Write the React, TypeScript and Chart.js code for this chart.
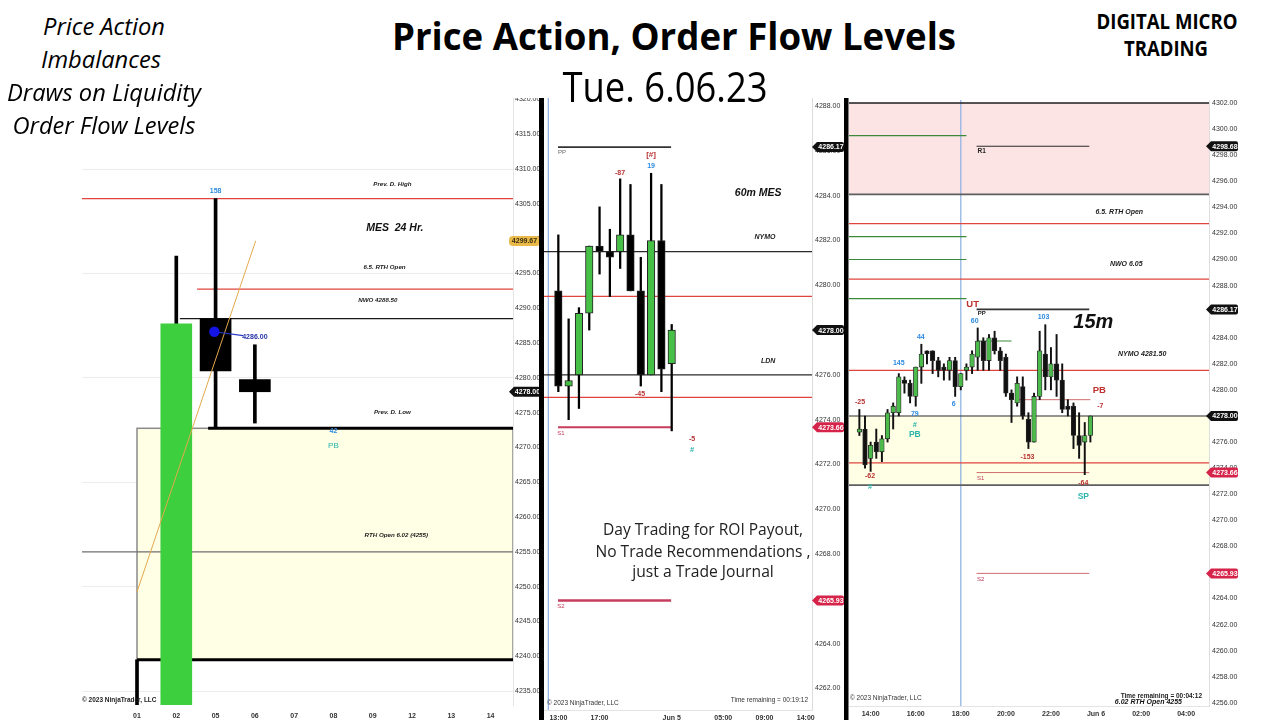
import React, { useEffect, useRef } from 'react';
import { Chart, registerables } from 'chart.js';

Chart.register(...registerables);

const NT_FONT = '"Liberation Sans", Arial, sans-serif';

type Level = { v: number; from?: number; to?: number; kind: string };
type Zone = { hi: number; lo: number; from?: number; to?: number; kind: string };
type Seg = { x0: number; v0: number; x1: number; v1: number; kind: string };
type VLine = { x: number; kind: string };
type Dot = { x: number; v: number; kind: string };
type Note = { x: number; v: number; text: string; kind: string };
type Badge = { v: number; text: string; kind: string };
type Footer = { text: string; kind: string; side: 'left' | 'right'; dx: number; dy: number };

/* ===================== LEFT PANEL : MES 24 Hr (daily) ===================== */
const LEFT_X_TICK_POS = [0, 1, 2, 3, 4, 5, 6, 7, 8, 9];
const LEFT_X_TICK_LABELS = ['01', '02', '05', '06', '07', '08', '09', '12', '13', '14'];
const LEFT_Y_TICKS = [4235, 4240, 4245, 4250, 4255, 4260, 4265, 4270, 4275, 4280, 4285, 4290, 4295, 4300, 4305, 4310, 4315, 4320];
const LEFT_BAR = [0, 1, 2, 3];
const LEFT_OPEN = [4231, 4226, 4288.5, 4279.75];
const LEFT_HIGH = [4239.5, 4297.5, 4305.75, 4284.75];
const LEFT_LOW = [4225, 4222, 4272.75, 4273.5];
const LEFT_CLOSE = [4230, 4287.75, 4281, 4278];
const LEFT_LEVELS: Level[] = [
  { v: 4305.75, kind: 'red' },
  { v: 4292.75, from: 1.53, kind: 'red' },
  { v: 4288.5, from: 1.09, kind: 'black' },
  { v: 4272.75, from: 1.81, kind: 'blackThick' },
  { v: 4255, kind: 'gray' },
  { v: 4239.5, from: 0, kind: 'blackThick' },
];
const LEFT_ZONES: Zone[] = [{ hi: 4272.75, lo: 4239.5, from: 0, kind: 'creamBox' }];
const LEFT_SEGS: Seg[] = [
  { x0: 0, v0: 4249.25, x1: 3.02, v1: 4299.67, kind: 'orange' },
  { x0: 1.97, v0: 4286.62, x1: 2.7, v1: 4286.05, kind: 'navy' },
];
const LEFT_DOTS: Dot[] = [{ x: 1.97, v: 4286.62, kind: 'blueDot' }];
const LEFT_NOTES: Note[] = [
  { x: 6.5, v: 4307.85, text: 'Prev. D. High', kind: 'tag' },
  { x: 6.56, v: 4301.5, text: 'MES  24 Hr.', kind: 'title' },
  { x: 6.3, v: 4295.9, text: '6.5. RTH Open', kind: 'tag' },
  { x: 6.13, v: 4291.2, text: 'NWO 4288.50', kind: 'tag' },
  { x: 6.5, v: 4275.1, text: 'Prev. D. Low', kind: 'tag' },
  { x: 6.6, v: 4257.4, text: 'RTH Open 6.02 (4255)', kind: 'tag' },
  { x: 2, v: 4306.85, text: '158', kind: 'blue' },
  { x: 5, v: 4272.35, text: '42', kind: 'blue' },
  { x: 5, v: 4270.2, text: 'PB', kind: 'tealMid' },
  { x: 3.0, v: 4285.85, text: '4286.00', kind: 'navy' },
];
const LEFT_BADGES: Badge[] = [
  { v: 4299.67, text: '4299.67', kind: 'gold' },
  { v: 4278, text: '4278.00', kind: 'black' },
];

/* ===================== MIDDLE PANEL : 60m MES ===================== */
const MID_X_TICK_POS = [0, 4, 11, 16, 20, 24];
const MID_X_TICK_LABELS = ['13:00', '17:00', 'Jun 5', '05:00', '09:00', '14:00'];
const MID_Y_TICKS = [4262, 4264, 4266, 4268, 4270, 4272, 4274, 4276, 4278, 4280, 4282, 4284, 4286, 4288];
const MID_BAR = [0, 1, 2, 3, 4, 5, 6, 7, 8, 9, 10, 11];
const MID_OPEN = [4279.75, 4275.5, 4276.0, 4278.75, 4281.75, 4281.5, 4281.5, 4282.25, 4279.75, 4276.0, 4282.0, 4276.5];
const MID_HIGH = [4282.25, 4278.5, 4279.0, 4281.75, 4283.5, 4282.5, 4284.75, 4284.5, 4281.25, 4285.0, 4284.5, 4278.25];
const MID_LOW = [4275.25, 4274.0, 4274.5, 4278.0, 4280.5, 4279.5, 4280.75, 4279.75, 4275.5, 4276.0, 4275.25, 4273.5];
const MID_CLOSE = [4275.5, 4275.75, 4278.75, 4281.75, 4281.5, 4281.25, 4282.25, 4279.75, 4276.0, 4282.0, 4276.25, 4278.0];
const MID_LEVELS: Level[] = [
  { v: 4286.17, from: -0.03, to: 10.94, kind: 'pp' },
  { v: 4281.5, kind: 'dark' },
  { v: 4279.5, kind: 'red' },
  { v: 4276.0, kind: 'dark' },
  { v: 4275.0, kind: 'red' },
  { v: 4273.66, from: -0.03, to: 10.94, kind: 'crimson' },
  { v: 4265.93, from: -0.03, to: 10.94, kind: 'crimsonThick' },
];
const MID_VLINES: VLine[] = [{ x: -0.97, kind: 'blue' }];
const MID_NOTES: Note[] = [
  { x: 0.35, v: 4285.95, text: 'PP', kind: 'small' },
  { x: 20.05, v: 4282.15, text: 'NYMO', kind: 'tag7' },
  { x: 20.36, v: 4276.62, text: 'LDN', kind: 'tag7' },
  { x: 19.39, v: 4284.12, text: '60m MES', kind: 'title' },
  { x: 5.99, v: 4285.01, text: '-87', kind: 'red' },
  { x: 9.0, v: 4285.81, text: '[#]', kind: 'redMid' },
  { x: 9.0, v: 4285.32, text: '19', kind: 'blue' },
  { x: 7.93, v: 4275.14, text: '-45', kind: 'red' },
  { x: 12.98, v: 4273.13, text: '-5', kind: 'red' },
  { x: 12.98, v: 4272.64, text: '#', kind: 'teal' },
  { x: 0.26, v: 4273.4, text: 'S1', kind: 'crimson' },
  { x: 0.26, v: 4265.68, text: 'S2', kind: 'crimson' },
];
const MID_BADGES: Badge[] = [
  { v: 4286.17, text: '4286.17', kind: 'black' },
  { v: 4278.0, text: '4278.00', kind: 'black' },
  { v: 4273.66, text: '4273.66', kind: 'red' },
  { v: 4265.93, text: '4265.93', kind: 'red' },
];

/* ===================== RIGHT PANEL : 15m MES ===================== */
const RIGHT_X_TICK_POS = [0, 8, 16, 24, 32, 40, 48, 56];
const RIGHT_X_TICK_LABELS = ['14:00', '16:00', '18:00', '20:00', '22:00', 'Jun 6', '02:00', '04:00'];
const RIGHT_Y_TICKS = [4256, 4258, 4260, 4262, 4264, 4266, 4268, 4270, 4272, 4274, 4276, 4278, 4280, 4282, 4284, 4286, 4288, 4290, 4292, 4294, 4296, 4298, 4300, 4302];
const RIGHT_BAR = [-2, -1, 0, 1, 2, 3, 4, 5, 6, 7, 8, 9, 10, 11, 12, 13, 14, 15, 16, 17, 18, 19, 20, 21, 22, 23, 24, 25, 26, 27, 28, 29, 30, 31, 32, 33, 34, 35, 36, 37, 38, 39];
const RIGHT_OPEN = [4276.75, 4277.0, 4274.75, 4276.0, 4275.25, 4276.25, 4278.25, 4278.25, 4280.75, 4280.5, 4279.5, 4281.75, 4283.0, 4283.0, 4282.25, 4281.75, 4281.5, 4282.25, 4280.25, 4281.5, 4281.75, 4282.5, 4283.75, 4282.25, 4284.0, 4283.0, 4282.5, 4279.75, 4279.0, 4280.25, 4277.75, 4276.0, 4279.5, 4282.75, 4281.0, 4282.0, 4280.75, 4278.75, 4278.75, 4276.5, 4276.0, 4276.5];
const RIGHT_HIGH = [4278.5, 4278.0, 4276.0, 4277.0, 4276.5, 4278.5, 4279.0, 4281.25, 4281.0, 4280.75, 4281.75, 4283.5, 4283.0, 4283.0, 4282.5, 4282.0, 4282.5, 4282.5, 4281.25, 4282.0, 4283.0, 4284.75, 4284.0, 4284.25, 4284.5, 4283.25, 4282.75, 4280.0, 4281.0, 4281.0, 4278.25, 4279.75, 4284.5, 4285.0, 4283.25, 4284.25, 4282.0, 4279.25, 4279.0, 4278.25, 4277.5, 4278.0];
const RIGHT_LOW = [4276.5, 4274.0, 4273.75, 4274.75, 4274.5, 4276.0, 4277.0, 4278.0, 4279.75, 4279.0, 4278.75, 4280.5, 4282.0, 4281.25, 4281.0, 4280.75, 4280.75, 4279.5, 4280.0, 4280.75, 4281.25, 4281.5, 4281.5, 4281.5, 4282.75, 4281.5, 4279.5, 4277.5, 4278.75, 4277.75, 4275.5, 4276.0, 4279.25, 4280.0, 4280.0, 4279.5, 4278.25, 4278.0, 4275.5, 4274.75, 4273.5, 4276.0];
const RIGHT_CLOSE = [4277.0, 4274.25, 4275.75, 4275.25, 4276.25, 4278.25, 4278.75, 4281.0, 4280.5, 4279.5, 4281.75, 4282.75, 4282.75, 4282.25, 4281.5, 4281.5, 4282.25, 4280.25, 4281.25, 4281.75, 4282.75, 4283.75, 4282.25, 4284.0, 4283.0, 4282.25, 4279.75, 4279.25, 4280.5, 4278.0, 4276.0, 4279.5, 4283.0, 4281.0, 4282.0, 4280.75, 4278.5, 4278.5, 4276.5, 4275.75, 4276.5, 4278.0];
const RIGHT_LEVELS: Level[] = [
  { v: 4302, kind: 'dark15' },
  { v: 4299.5, to: 17, kind: 'green' },
  { v: 4298.68, from: 18.8, to: 38.8, kind: 'dark' },
  { v: 4295, kind: 'grayThick' },
  { v: 4292.75, kind: 'red' },
  { v: 4291.75, to: 17, kind: 'green' },
  { v: 4290, to: 17, kind: 'green' },
  { v: 4288.5, kind: 'red' },
  { v: 4287, to: 17, kind: 'green' },
  { v: 4286.17, from: 18.8, to: 38.8, kind: 'pp' },
  { v: 4283.75, from: 19, to: 25, kind: 'green' },
  { v: 4281.5, kind: 'red' },
  { v: 4279.25, from: 26, to: 39, kind: 'thinRed' },
  { v: 4278, kind: 'dark' },
  { v: 4274.4, kind: 'red' },
  { v: 4273.66, from: 18.8, to: 38.8, kind: 'thinRed' },
  { v: 4272.7, kind: 'grayThick' },
  { v: 4265.93, from: 18.8, to: 38.8, kind: 'thinRed' },
];
const RIGHT_ZONES: Zone[] = [
  { hi: 4302, lo: 4295, kind: 'pink' },
  { hi: 4278, lo: 4272.7, kind: 'cream' },
];
const RIGHT_VLINES: VLine[] = [{ x: 16, kind: 'blue' }];
const RIGHT_NOTES: Note[] = [
  { x: 19.7, v: 4298.32, text: 'R1', kind: 'smallBold' },
  { x: 44.12, v: 4293.64, text: '6.5. RTH Open', kind: 'tag7' },
  { x: 45.36, v: 4289.65, text: 'NWO 6.05', kind: 'tag7' },
  { x: 48.19, v: 4282.75, text: 'NYMO 4281.50', kind: 'tag7' },
  { x: 39.52, v: 4285.2, text: '15m', kind: 'titleBig' },
  { x: 18.1, v: 4286.59, text: 'UT', kind: 'redBig' },
  { x: 19.7, v: 4285.9, text: 'PP', kind: 'smallDark' },
  { x: 40.58, v: 4279.99, text: 'PB', kind: 'redBig' },
  { x: 40.76, v: 4278.76, text: '-7', kind: 'red' },
  { x: 18.46, v: 4285.28, text: '60', kind: 'blue' },
  { x: 30.68, v: 4285.59, text: '103', kind: 'blue' },
  { x: 8.9, v: 4284.06, text: '44', kind: 'blue' },
  { x: 5.0, v: 4282.06, text: '145', kind: 'blue' },
  { x: -1.89, v: 4279.07, text: '-25', kind: 'red' },
  { x: 14.74, v: 4278.92, text: '6', kind: 'blue' },
  { x: 7.84, v: 4278.15, text: '79', kind: 'blue' },
  { x: 7.84, v: 4277.31, text: '#', kind: 'teal' },
  { x: 7.84, v: 4276.54, text: 'PB', kind: 'tealBig' },
  { x: -0.12, v: 4273.4, text: '-62', kind: 'red' },
  { x: -0.12, v: 4272.55, text: '#', kind: 'teal' },
  { x: 27.84, v: 4274.85, text: '-153', kind: 'red' },
  { x: 37.75, v: 4272.86, text: '-64', kind: 'red' },
  { x: 37.75, v: 4271.79, text: 'SP', kind: 'tealBig' },
  { x: 19.52, v: 4273.24, text: 'S1', kind: 'crimson' },
  { x: 19.52, v: 4265.5, text: 'S2', kind: 'crimson' },
];
const RIGHT_BADGES: Badge[] = [
  { v: 4298.68, text: '4298.68', kind: 'black' },
  { v: 4286.17, text: '4286.17', kind: 'black' },
  { v: 4278.0, text: '4278.00', kind: 'black' },
  { v: 4273.66, text: '4273.66', kind: 'red' },
  { v: 4265.93, text: '4265.93', kind: 'red' },
];

/* ===================== STYLES ===================== */
const LINE_STYLES: Record<string, { color: string; width: number }> = {
  red: { color: '#e0443c', width: 1.2 },
  dark: { color: '#2a2a2a', width: 1.1 },
  dark15: { color: '#1e1e1e', width: 1.6 },
  black: { color: '#1a1a1a', width: 1.1 },
  blackThick: { color: '#000', width: 3 },
  gray: { color: '#6f6f6f', width: 1.2 },
  grayThick: { color: '#5e5e5e', width: 1.8 },
  pp: { color: '#333', width: 1.8 },
  crimson: { color: '#c83c5e', width: 2 },
  crimsonThick: { color: '#c83c5e', width: 2.6 },
  thinRed: { color: '#cf6d6d', width: 1 },
  green: { color: '#3b8a3b', width: 1.2 },
  blue: { color: '#92b4e4', width: 1.3 },
  orange: { color: '#e3a94c', width: 1 },
  navy: { color: '#2336c8', width: 1.2 },
};
const ZONE_STYLES: Record<string, { fill: string; stroke?: string; width?: number }> = {
  creamBox: { fill: '#ffffe6', stroke: '#8a8a8a', width: 1.5 },
  cream: { fill: '#ffffe6' },
  pink: { fill: '#fde4e4' },
};
const DOT_STYLES: Record<string, { color: string; r: number }> = {
  blueDot: { color: '#1414e6', r: 5.2 },
};
const NOTE_STYLES: Record<string, { font: string; color: string }> = {
  tag: { font: `italic bold 6.2px ${NT_FONT}`, color: '#1a1a1a' },
  tag7: { font: `italic bold 7px ${NT_FONT}`, color: '#1a1a1a' },
  title: { font: `italic bold 10.5px ${NT_FONT}`, color: '#111' },
  titleBig: { font: `italic bold 20px ${NT_FONT}`, color: '#111' },
  blue: { font: `bold 7px ${NT_FONT}`, color: '#2d8ae0' },
  red: { font: `bold 7px ${NT_FONT}`, color: '#b83232' },
  redMid: { font: `bold 8px ${NT_FONT}`, color: '#b83232' },
  redBig: { font: `bold 9.5px ${NT_FONT}`, color: '#c0302c' },
  teal: { font: `bold 7.5px ${NT_FONT}`, color: '#26b3a8' },
  tealMid: { font: `8px ${NT_FONT}`, color: '#26b3a8' },
  tealBig: { font: `bold 8.5px ${NT_FONT}`, color: '#2bb5aa' },
  navy: { font: `bold 7px ${NT_FONT}`, color: '#2433a8' },
  small: { font: `6px ${NT_FONT}`, color: '#666' },
  smallDark: { font: `bold 6px ${NT_FONT}`, color: '#222' },
  smallBold: { font: `bold 6.5px ${NT_FONT}`, color: '#222' },
  crimson: { font: `6px ${NT_FONT}`, color: '#c23a5a' },
  foot: { font: `6.5px ${NT_FONT}`, color: '#333' },
  footBold: { font: `bold 6.5px ${NT_FONT}`, color: '#222' },
  footBI: { font: `italic bold 7px ${NT_FONT}`, color: '#111' },
};
const BADGE_STYLES: Record<string, { fill: string; color: string; shape: 'arrow' | 'pill' }> = {
  black: { fill: '#111', color: '#fff', shape: 'arrow' },
  red: { fill: '#d6234a', color: '#fff', shape: 'arrow' },
  gold: { fill: '#e9b949', color: '#3a2e10', shape: 'pill' },
};

type Panel = {
  xMin: number; xMax: number; yMin: number; yMax: number;
  xTickPos: number[]; xTickLabels: string[]; yTicks: number[];
  bar: number[]; open: number[]; high: number[]; low: number[]; close: number[];
  levels: Level[]; zones: Zone[]; segs: Seg[]; vlines: VLine[]; dots: Dot[]; notes: Note[]; badges: Badge[]; footers: Footer[];
  look: {
    padLeft: number; padTop: number; yAxisW: number; xAxisH: number; xTickPad: number; yTickPad: number;
    bodyW: number; wickW: number; up: string; down: string; bodyBorder: string | null; bodyBorderW: number; wick: string;
    leftBar: number; gridEvery: number; gridBase: number; yBorder: string; xBorder: string | null;
    badgeDx: number; badgeW: number;
  };
};

function makeOverlay(p: Panel) {
  const xp = (chart: any, v: number | undefined, fb: number) => (v === undefined ? fb : chart.scales.x.getPixelForValue(v));
  const yp = (chart: any, v: number) => chart.scales.y.getPixelForValue(v);
  return {
    id: 'overlay',
    beforeDatasetsDraw(chart: any) {
      const { ctx, chartArea: a } = chart;
      ctx.save();
      ctx.beginPath();
      ctx.rect(a.left, a.top, a.right - a.left, a.bottom - a.top);
      ctx.clip();
      for (const z of p.zones) {
        const st = ZONE_STYLES[z.kind];
        const x0 = xp(chart, z.from, a.left);
        const x1 = xp(chart, z.to, a.right);
        const y0 = yp(chart, z.hi);
        const y1 = yp(chart, z.lo);
        ctx.fillStyle = st.fill;
        ctx.fillRect(x0, y0, x1 - x0, y1 - y0);
        if (st.stroke) {
          ctx.strokeStyle = st.stroke;
          ctx.lineWidth = st.width || 1;
          ctx.strokeRect(x0, y0, x1 - x0, y1 - y0);
        }
      }
      for (const vl of p.vlines) {
        const st = LINE_STYLES[vl.kind];
        const x = chart.scales.x.getPixelForValue(vl.x);
        ctx.strokeStyle = st.color;
        ctx.lineWidth = st.width;
        ctx.beginPath();
        ctx.moveTo(x, a.top);
        ctx.lineTo(x, a.bottom);
        ctx.stroke();
      }
      for (const l of p.levels) {
        const st = LINE_STYLES[l.kind];
        const y = yp(chart, l.v);
        ctx.strokeStyle = st.color;
        ctx.lineWidth = st.width;
        ctx.beginPath();
        ctx.moveTo(xp(chart, l.from, a.left), y);
        ctx.lineTo(xp(chart, l.to, a.right), y);
        ctx.stroke();
      }
      ctx.restore();
    },
    afterDatasetsDraw(chart: any) {
      const { ctx, chartArea: a } = chart;
      ctx.save();
      ctx.beginPath();
      ctx.rect(a.left, a.top, a.right - a.left, a.bottom - a.top);
      ctx.clip();
      for (const s of p.segs) {
        const st = LINE_STYLES[s.kind];
        ctx.strokeStyle = st.color;
        ctx.lineWidth = st.width;
        ctx.beginPath();
        ctx.moveTo(chart.scales.x.getPixelForValue(s.x0), yp(chart, s.v0));
        ctx.lineTo(chart.scales.x.getPixelForValue(s.x1), yp(chart, s.v1));
        ctx.stroke();
      }
      for (const d of p.dots) {
        const st = DOT_STYLES[d.kind];
        ctx.fillStyle = st.color;
        ctx.beginPath();
        ctx.arc(chart.scales.x.getPixelForValue(d.x), yp(chart, d.v), st.r, 0, Math.PI * 2);
        ctx.fill();
      }
      ctx.textAlign = 'center';
      ctx.textBaseline = 'middle';
      for (const n of p.notes) {
        const st = NOTE_STYLES[n.kind];
        ctx.font = st.font;
        ctx.fillStyle = st.color;
        ctx.fillText(n.text, chart.scales.x.getPixelForValue(n.x), yp(chart, n.v));
      }
      ctx.textBaseline = 'middle';
      for (const f of p.footers) {
        const st = NOTE_STYLES[f.kind];
        ctx.font = st.font;
        ctx.fillStyle = st.color;
        ctx.textAlign = f.side === 'left' ? 'left' : 'right';
        const x = f.side === 'left' ? a.left + f.dx : a.right - f.dx;
        ctx.fillText(f.text, x, a.bottom - f.dy);
      }
      ctx.restore();
    },
    afterDraw(chart: any) {
      const { ctx, chartArea: a } = chart;
      const ys = chart.scales.y;
      ctx.save();
      for (const b of p.badges) {
        const st = BADGE_STYLES[b.kind];
        const yc = ys.getPixelForValue(b.v);
        const x0 = ys.left + p.look.badgeDx;
        const w = p.look.badgeW;
        const h = 10;
        ctx.fillStyle = st.fill;
        ctx.beginPath();
        if (st.shape === 'arrow') {
          ctx.moveTo(x0, yc);
          ctx.lineTo(x0 + 5, yc - h / 2);
          ctx.lineTo(x0 + w - 2, yc - h / 2);
          ctx.quadraticCurveTo(x0 + w, yc - h / 2, x0 + w, yc - h / 2 + 2);
          ctx.lineTo(x0 + w, yc + h / 2 - 2);
          ctx.quadraticCurveTo(x0 + w, yc + h / 2, x0 + w - 2, yc + h / 2);
          ctx.lineTo(x0 + 5, yc + h / 2);
          ctx.closePath();
        } else {
          ctx.roundRect(x0, yc - h / 2, w, h, 4);
        }
        ctx.fill();
        ctx.fillStyle = st.color;
        ctx.font = `bold 7px ${NT_FONT}`;
        ctx.textAlign = 'center';
        ctx.textBaseline = 'middle';
        ctx.fillText(b.text, x0 + (st.shape === 'arrow' ? 3 : 0) + w / 2, yc + 0.5);
      }
      if (p.look.leftBar > 0) {
        ctx.fillStyle = '#000';
        ctx.fillRect(0, 0, p.look.leftBar, chart.height);
      }
      ctx.restore();
    },
  };
}

function buildChart(canvas: HTMLCanvasElement, p: Panel) {
  const L = p.look;
  const bodyColors = p.open.map((o, i) => (p.close[i] > o ? L.up : L.down));
  const zeroPad = (s: any) => {
    s.paddingTop = 0;
    s.paddingBottom = 0;
    s.paddingLeft = 0;
    s.paddingRight = 0;
  };
  return new Chart(canvas, {
    type: 'bar',
    data: {
      datasets: [
        {
          label: 'body',
          data: p.bar.map((x, i) => ({ x, y: [p.open[i], p.close[i]] })) as any,
          backgroundColor: bodyColors,
          borderColor: L.bodyBorder || 'rgba(0,0,0,0)',
          borderWidth: L.bodyBorder ? L.bodyBorderW : 0,
          borderSkipped: false,
          barThickness: L.bodyW,
          grouped: false,
          minBarLength: 1,
          order: 0,
          clip: 0,
        } as any,
        {
          label: 'wick',
          data: p.bar.map((x, i) => ({ x, y: [p.low[i], p.high[i]] })) as any,
          backgroundColor: L.wick,
          borderWidth: 0,
          barThickness: L.wickW,
          grouped: false,
          order: 1,
          clip: 0,
        } as any,
      ],
    },
    options: {
      animation: false,
      responsive: false,
      maintainAspectRatio: false,
      events: [],
      layout: { padding: { left: L.padLeft, top: L.padTop, right: 0, bottom: 0 } },
      plugins: { legend: { display: false }, tooltip: { enabled: false } },
      scales: {
        x: {
          type: 'linear',
          min: p.xMin,
          max: p.xMax,
          offset: false,
          afterBuildTicks: (s: any) => {
            s.ticks = p.xTickPos.map((value) => ({ value }));
          },
          afterFit: (s: any) => {
            s.height = L.xAxisH;
            zeroPad(s);
          },
          grid: { display: false, drawTicks: false },
          border: { display: !!L.xBorder, color: L.xBorder || 'transparent' },
          ticks: {
            autoSkip: false,
            maxRotation: 0,
            minRotation: 0,
            padding: L.xTickPad,
            font: { family: NT_FONT, size: 7, weight: 'bold' },
            color: '#333',
            callback: (_v: any, i: number) => p.xTickLabels[i],
          },
        },
        y: {
          type: 'linear',
          position: 'right',
          min: p.yMin,
          max: p.yMax,
          afterBuildTicks: (s: any) => {
            s.ticks = p.yTicks.filter((v) => v >= p.yMin && v <= p.yMax).map((value) => ({ value }));
          },
          afterFit: (s: any) => {
            s.width = L.yAxisW;
            zeroPad(s);
          },
          grid: {
            display: L.gridEvery > 0,
            drawTicks: false,
            color: (c: any) =>
              L.gridEvery > 0 && Math.abs((c.tick.value - L.gridBase) % L.gridEvery) < 1e-6 ? '#ececec' : 'rgba(0,0,0,0)',
          },
          border: { display: true, color: L.yBorder },
          ticks: {
            autoSkip: false,
            padding: L.yTickPad,
            font: { family: NT_FONT, size: 7 },
            color: '#333',
            callback: (v: any) => Number(v).toFixed(2),
          },
        },
      },
    } as any,
    plugins: [makeOverlay(p) as any],
  });
}

const LEFT_PANEL: Panel = {
  xMin: -1.4, xMax: 9.57, yMin: 4233.0, yMax: 4320.2,
  xTickPos: LEFT_X_TICK_POS, xTickLabels: LEFT_X_TICK_LABELS, yTicks: LEFT_Y_TICKS,
  bar: LEFT_BAR, open: LEFT_OPEN, high: LEFT_HIGH, low: LEFT_LOW, close: LEFT_CLOSE,
  levels: LEFT_LEVELS, zones: LEFT_ZONES, segs: LEFT_SEGS, vlines: [], dots: LEFT_DOTS, notes: LEFT_NOTES, badges: LEFT_BADGES,
  footers: [{ text: '© 2023 NinjaTrader, LLC', kind: 'footBold', side: 'left', dx: 0, dy: 5 }],
  look: {
    padLeft: 0, padTop: 0, yAxisW: 26, xAxisH: 15, xTickPad: 7, yTickPad: 2,
    bodyW: 31, wickW: 3, up: '#3ecf3e', down: '#000', bodyBorder: null, bodyBorderW: 0, wick: '#000',
    leftBar: 0, gridEvery: 15, gridBase: 4235, yBorder: '#e4e4e4', xBorder: null, badgeDx: -4, badgeW: 31,
  },
};

const MID_PANEL: Panel = {
  xMin: -1.39, xMax: 24.61, yMin: 4261.04, yMax: 4288.36,
  xTickPos: MID_X_TICK_POS, xTickLabels: MID_X_TICK_LABELS, yTicks: MID_Y_TICKS,
  bar: MID_BAR, open: MID_OPEN, high: MID_HIGH, low: MID_LOW, close: MID_CLOSE,
  levels: MID_LEVELS, zones: [], segs: [], vlines: MID_VLINES, dots: [], notes: MID_NOTES, badges: MID_BADGES,
  footers: [
    { text: '© 2023 NinjaTrader, LLC', kind: 'foot', side: 'left', dx: 3, dy: 7 },
    { text: 'Time remaining = 00:19:12', kind: 'foot', side: 'right', dx: 4, dy: 9.5 },
  ],
  look: {
    padLeft: 5, padTop: 0, yAxisW: 32, xAxisH: 10, xTickPad: 4, yTickPad: 3,
    bodyW: 7.5, wickW: 1.6, up: '#46c046', down: '#000', bodyBorder: '#222', bodyBorderW: 1, wick: '#000',
    leftBar: 5, gridEvery: 0, gridBase: 0, yBorder: '#dcdcdc', xBorder: '#e4e4e4', badgeDx: 0, badgeW: 32,
  },
};

const RIGHT_PANEL: Panel = {
  xMin: -3.84, xMax: 60.05, yMin: 4255.76, yMax: 4302.23,
  xTickPos: RIGHT_X_TICK_POS, xTickLabels: RIGHT_X_TICK_LABELS, yTicks: RIGHT_Y_TICKS,
  bar: RIGHT_BAR, open: RIGHT_OPEN, high: RIGHT_HIGH, low: RIGHT_LOW, close: RIGHT_CLOSE,
  levels: RIGHT_LEVELS, zones: RIGHT_ZONES, segs: [], vlines: RIGHT_VLINES, dots: [], notes: RIGHT_NOTES, badges: RIGHT_BADGES,
  footers: [
    { text: '© 2023 NinjaTrader, LLC', kind: 'foot', side: 'left', dx: 1, dy: 8 },
    { text: 'Time remaining = 00:04:12', kind: 'footBold', side: 'right', dx: 7, dy: 10 },
    { text: '6.02 RTH Open 4255', kind: 'footBI', side: 'right', dx: 27, dy: 4 },
  ],
  look: {
    padLeft: 5, padTop: 2, yAxisW: 35, xAxisH: 14, xTickPad: 4, yTickPad: 3,
    bodyW: 4.6, wickW: 1.3, up: '#4cbb4c', down: '#111', bodyBorder: '#2a2a2a', bodyBorderW: 0.8, wick: '#111',
    leftBar: 4.5, gridEvery: 0, gridBase: 0, yBorder: '#dedede', xBorder: '#e4e4e4', badgeDx: -3, badgeW: 32,
  },
};

/* ===================== HTML HEADINGS ===================== */
type Heading = { text: string; cx: number; cy: number; size: number; width: number; weight: number; italic?: boolean; color?: string };
const HEADINGS: Heading[] = [
  { text: 'Price Action', cx: 104, cy: 27, size: 24, width: 122, weight: 400, italic: true },
  { text: 'Imbalances', cx: 101, cy: 60, size: 24, width: 120, weight: 400, italic: true },
  { text: 'Draws on Liquidity', cx: 104, cy: 93, size: 24, width: 194, weight: 400, italic: true },
  { text: 'Order Flow Levels', cx: 103.5, cy: 126, size: 24, width: 183, weight: 400, italic: true },
  { text: 'Price Action, Order Flow Levels', cx: 674, cy: 37, size: 37, width: 564, weight: 700 },
  { text: 'Tue. 6.06.23', cx: 664.5, cy: 87, size: 42, width: 205, weight: 400 },
  { text: 'DIGITAL MICRO', cx: 1166.5, cy: 22, size: 21, width: 141, weight: 700 },
  { text: 'TRADING', cx: 1166, cy: 49, size: 21, width: 84, weight: 700 },
  { text: 'Day Trading for ROI Payout,', cx: 702.5, cy: 530, size: 15.5, width: 200, weight: 400, color: '#222' },
  { text: 'No Trade Recommendations ,', cx: 702.5, cy: 552, size: 15.5, width: 215, weight: 400, color: '#222' },
  { text: 'just a Trade Journal', cx: 702.5, cy: 572, size: 15.5, width: 141.6, weight: 400, color: '#222' },
];

let measureCtx: CanvasRenderingContext2D | null = null;
function textWidth(text: string, font: string): number {
  if (!measureCtx) measureCtx = document.createElement('canvas').getContext('2d');
  if (!measureCtx) return 1;
  measureCtx.font = font;
  return measureCtx.measureText(text).width || 1;
}

function FitText({ h }: { h: Heading }) {
  const family = '"Open Sans", "Noto Sans", sans-serif';
  const font = `${h.italic ? 'italic ' : ''}${h.weight} ${h.size}px ${family}`;
  const sx = h.width / textWidth(h.text, font);
  return (
    <div
      style={{
        position: 'absolute',
        left: h.cx,
        top: h.cy - 0.53 * h.size,
        whiteSpace: 'nowrap',
        fontFamily: family,
        fontSize: h.size,
        fontWeight: h.weight,
        fontStyle: h.italic ? 'italic' : 'normal',
        lineHeight: `${h.size}px`,
        color: h.color || '#000',
        transform: `translateX(-50%) scaleX(${sx})`,
        transformOrigin: '50% 50%',
      }}
    >
      {h.text}
    </div>
  );
}

export default function App() {
  const leftRef = useRef<HTMLCanvasElement | null>(null);
  const midRef = useRef<HTMLCanvasElement | null>(null);
  const rightRef = useRef<HTMLCanvasElement | null>(null);

  useEffect(() => {
    const charts: Chart[] = [];
    if (leftRef.current) charts.push(buildChart(leftRef.current, LEFT_PANEL));
    if (midRef.current) charts.push(buildChart(midRef.current, MID_PANEL));
    if (rightRef.current) charts.push(buildChart(rightRef.current, RIGHT_PANEL));
    return () => charts.forEach((c) => c.destroy());
  }, []);

  return (
    <div style={{ position: 'fixed', left: 0, top: 0, width: 1280, height: 720, background: '#fff', overflow: 'hidden' }}>
      <canvas ref={leftRef} width={457} height={622} style={{ position: 'absolute', left: 82, top: 98, width: 457, height: 622 }} />
      <canvas ref={midRef} width={305} height={622} style={{ position: 'absolute', left: 539, top: 98, width: 305, height: 622 }} />
      <canvas ref={rightRef} width={400} height={622} style={{ position: 'absolute', left: 844, top: 98, width: 400, height: 622 }} />
      {HEADINGS.map((h, i) => (
        <FitText key={i} h={h} />
      ))}
    </div>
  );
}
